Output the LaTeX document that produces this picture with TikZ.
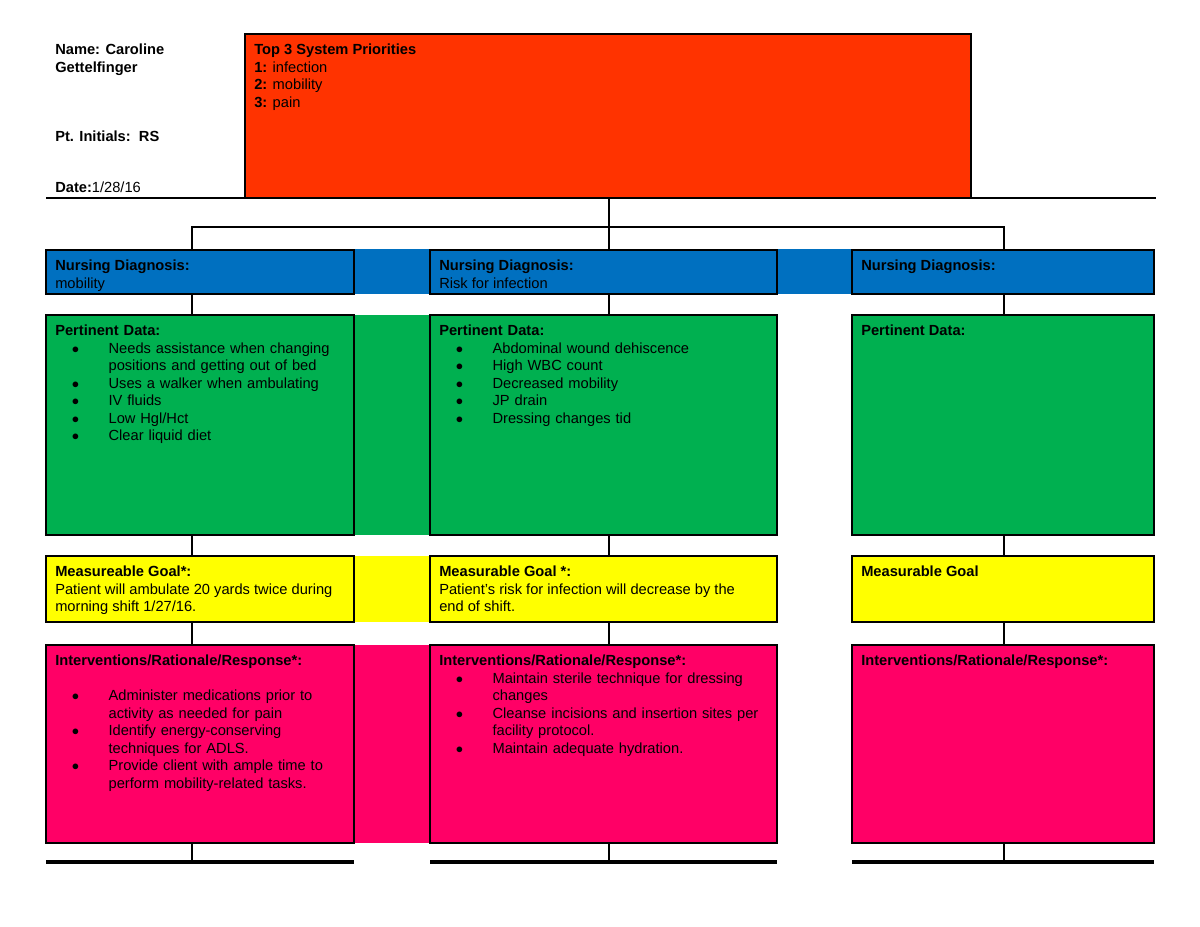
\documentclass[tikz,border=0pt]{standalone}
\usepackage{fontspec}
\setmainfont{Liberation Sans}
\definecolor{cred}{HTML}{FF3300}
\definecolor{cblue}{HTML}{0070C0}
\definecolor{cgreen}{HTML}{00B050}
\definecolor{cyel}{HTML}{FFFF00}
\definecolor{cpink}{HTML}{FF0066}
\newenvironment{blist}{\begin{list}{$\bullet$}{\leftmargin=40pt\labelwidth=10pt\labelsep=22pt\itemsep=0pt\topsep=0pt\parsep=0pt\partopsep=0pt}}{\end{list}}
\begin{document}
\begin{tikzpicture}[x=0.75pt,y=-0.75pt,
  bx/.style={draw=black,line width=2pt},
  ln/.style={draw=black,line width=1.3pt},
  txt/.style={anchor=north west,inner sep=0pt,font=\fontsize{11}{13.1}\selectfont,align=left}]
\useasboundingbox (0,0) rectangle (1200,927);
% bands
\fill[cblue] (354,249) rectangle (430,294);
\fill[cblue] (777,249) rectangle (852,294);
\fill[cgreen] (354,315) rectangle (430,535);
\fill[cyel] (354,556) rectangle (430,622);
\fill[cpink] (354,645) rectangle (430,843);
% top
\node[txt] (nm) at (55,44) {\textbf{Name: Caroline}\\\textbf{Gettelfinger}};
\node[txt] (pt) at (55,131) {\textbf{Pt. Initials:\ \ RS}};
\node[txt] (dt) at (55,182) {\textbf{Date:}1/28/16};
\draw[bx,fill=cred] (245,34) rectangle (971,198);
\node[txt] (top) at (254,44) {\textbf{Top 3 System Priorities}\\\textbf{1:} infection\\\textbf{2:} mobility\\\textbf{3:} pain};
\draw[ln] (46,198) -- (1156,198);
\coordinate (hub) at (609,198);
\draw[ln] (hub) -- (609,250);
\draw[ln] (192,250) -- (192,227) -- (1004,227) -- (1004,250);
% columns
\foreach \l/\r/\c in {46/354/192,430/777/609,852/1154/1004}{
  \draw[bx,fill=cblue] (\l,250) rectangle (\r,294);
  \draw[bx,fill=cgreen] (\l,315) rectangle (\r,535);
  \draw[bx,fill=cyel] (\l,556) rectangle (\r,622);
  \draw[bx,fill=cpink] (\l,645) rectangle (\r,843);
  \draw[ln] (\c,294) -- (\c,315);
  \draw[ln] (\c,535) -- (\c,556);
  \draw[ln] (\c,622) -- (\c,645);
  \draw[ln] (\c,843) -- (\c,862);
  \draw[line width=2.5pt] (\l,862) -- (\r,862);
}
% col1
\node[txt] (d1) at (55,260) {\textbf{Nursing Diagnosis:}\\mobility};
\node[txt,text width=260pt] (p1) at (55,325) {\textbf{Pertinent Data:}
\begin{blist}\item Needs assistance when changing\newline positions and getting out of bed
\item Uses a walker when ambulating \item IV fluids \item Low Hgl/Hct \item Clear liquid diet\end{blist}};
\node[txt] (g1) at (55,566) {\textbf{Measureable Goal*:}\\Patient will ambulate 20 yards twice during\\morning shift 1/27/16.};
\node[txt,text width=260pt] (i1) at (55,655) {\textbf{Interventions/Rationale/Response*:}\\[13.1pt]
\begin{blist}\item Administer medications prior to\newline activity as needed for pain
\item Identify energy-conserving\newline techniques for ADLS.
\item Provide client with ample time to\newline perform mobility-related tasks.\end{blist}};
% col2
\node[txt] (d2) at (439,260) {\textbf{Nursing Diagnosis:}\\Risk for infection};
\node[txt,text width=260pt] (p2) at (439,325) {\textbf{Pertinent Data:}
\begin{blist}\item Abdominal wound dehiscence \item High WBC count \item Decreased mobility \item JP drain \item Dressing changes tid\end{blist}};
\node[txt] (g2) at (439,566) {\textbf{Measurable Goal *:}\\Patient's risk for infection will decrease by the\\end of shift.};
\node[txt,text width=260pt] (i2) at (439,655) {\textbf{Interventions/Rationale/Response*:}
\begin{blist}\item Maintain sterile technique for dressing\newline changes
\item Cleanse incisions and insertion sites per\newline facility protocol.
\item Maintain adequate hydration.\end{blist}};
% col3
\node[txt] (d3) at (861,260) {\textbf{Nursing Diagnosis:}};
\node[txt] (p3) at (861,325) {\textbf{Pertinent Data:}};
\node[txt] (g3) at (861,566) {\textbf{Measurable Goal}};
\node[txt] (i3) at (861,655) {\textbf{Interventions/Rationale/Response*:}};
\end{tikzpicture}
\end{document}
